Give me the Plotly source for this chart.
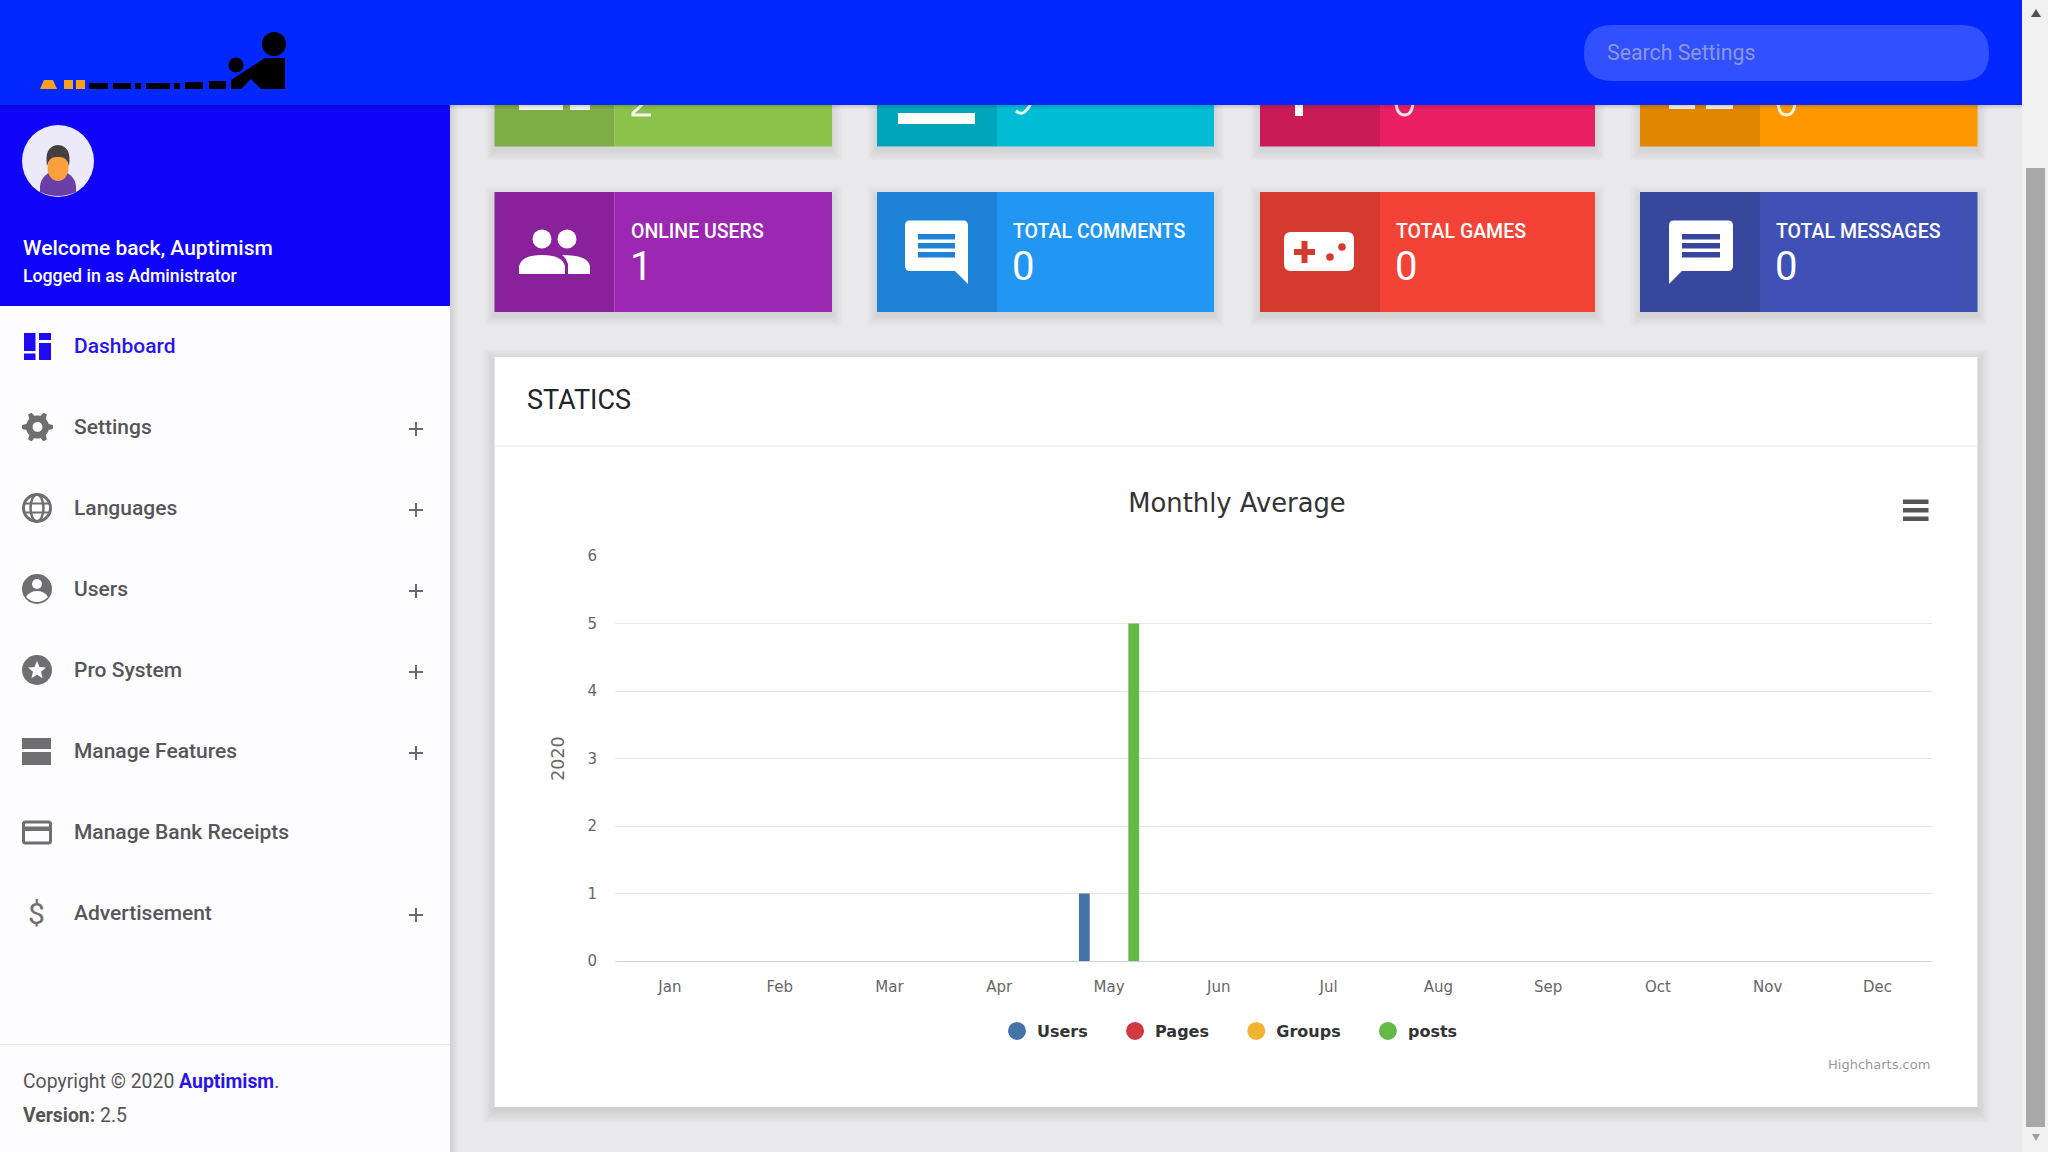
import re
import math
import plotly.graph_objects as go

# ---------- chart data ----------
months = ["Jan", "Feb", "Mar", "Apr", "May", "Jun", "Jul", "Aug", "Sep", "Oct", "Nov", "Dec"]
users = [0, 0, 0, 0, 1, 0, 0, 0, 0, 0, 0, 0]
pages = [0, 0, 0, 0, 0, 0, 0, 0, 0, 0, 0, 0]
groups = [0, 0, 0, 0, 0, 0, 0, 0, 0, 0, 0, 0]
posts = [0, 0, 0, 0, 5, 0, 0, 0, 0, 0, 0, 0]
series_names = ["Users", "Pages", "Groups", "posts"]
series_colors = ["#4572a7", "#d13a3f", "#f1b42f", "#63bb46"]
chart_title = "Monthly Average"
y_title = "2020"

menu_items = ["Dashboard", "Settings", "Languages", "Users", "Pro System",
              "Manage Features", "Manage Bank Receipts", "Advertisement"]
card_labels = ["ONLINE USERS", "TOTAL COMMENTS", "TOTAL GAMES", "TOTAL MESSAGES"]
card_values = ["1", "0", "0", "0"]

W, H = 2048, 1152
shapes, notes = [], []


def fx(x):
    return x / W


def fy(y):
    return 1 - y / H


def rect(x0, y0, x1, y1, color, opacity=1.0):
    shapes.append(dict(type="rect", xref="paper", yref="paper", x0=fx(x0), x1=fx(x1), y0=fy(y1), y1=fy(y0),
                       fillcolor=color, opacity=opacity, line=dict(width=0), layer="below"))


def circle(cx, cy, r, color, line=None, lw=0, ry=None):
    ry = r if ry is None else ry
    shapes.append(dict(type="circle", xref="paper", yref="paper", x0=fx(cx - r), x1=fx(cx + r),
                       y0=fy(cy + ry), y1=fy(cy - ry), fillcolor=color,
                       line=dict(width=lw, color=line or "rgba(0,0,0,0)"), layer="below"))


def path(d, color=None, line=None, lw=0):
    toks = re.findall(r"[MLCQZ]|-?\d+\.?\d*", d)
    out, is_x = [], True
    for t in toks:
        if t in "MLCQZ":
            out.append(t)
            is_x = True
        else:
            v = float(t)
            out.append(f"{fx(v):.6f}" if is_x else f"{fy(v):.6f}")
            is_x = not is_x
    s = ""
    for t in out:
        s += (" " + t)
    shapes.append(dict(type="path", xref="paper", yref="paper", path=s.strip(),
                       fillcolor=color or "rgba(0,0,0,0)",
                       line=dict(width=lw, color=line or "rgba(0,0,0,0)"), layer="below"))


def round_rect(x0, y0, x1, y1, r, color, line=None, lw=0):
    d = (f"M{x0 + r} {y0} L{x1 - r} {y0} Q{x1} {y0} {x1} {y0 + r} L{x1} {y1 - r} Q{x1} {y1} {x1 - r} {y1} "
         f"L{x0 + r} {y1} Q{x0} {y1} {x0} {y1 - r} L{x0} {y0 + r} Q{x0} {y0} {x0 + r} {y0} Z")
    path(d, color, line, lw)


def shadow(x0, y0, x1, y1, n=10, dy=4):
    for k in range(n, 0, -1):
        rect(x0 - k, y0 - k + dy, x1 + k, y1 + k + dy, "#000000", 0.0075)


def text(x, y, s, size, color, weight=400, font="Roboto", anchor="left"):
    notes.append(dict(xref="paper", yref="paper", x=fx(x), y=fy(y), text=s, showarrow=False,
                      xanchor=anchor, yanchor="middle",
                      font=dict(family=font, size=size, color=color, weight=weight)))


# ---------- page ----------
rect(0, 0, W, H, "#e9e9ec")

# upper row of cards, cut by the header
upper = [(494.5, 614.5, 832, "#7eac46", "#8bc34a"), (877, 997, 1214, "#00a5ba", "#00bcd4"),
         (1260, 1380, 1595, "#cb1b57", "#e91e63"), (1640, 1760, 1977.5, "#e08600", "#ff9800")]
for x0, xm, x1, dark, light in upper:
    shadow(x0, 90, x1, 146.5)
    rect(x0, 90, xm, 146.5, dark)
    rect(xm, 90, x1, 146.5, light)

lines_white = "#f4f6ee"
rect(519, 100, 563, 110, lines_white)
rect(570, 100, 590, 110, lines_white)
path("M644 103 L633 113 L633 115 L651 115", None, "#f4f6ee", 3)
rect(898, 113, 975, 124, "#ffffff")
path("M1016 111 Q1024 118 1031 103", None, "#e8fafc", 3)
rect(1295, 100, 1303, 116, "#ffffff")
path("M1396 103 Q1397 115 1404.5 115 Q1412 115 1413 103", None, "#fbe3ec", 3)
rect(1669, 100, 1695, 109, "#fbf2e4")
rect(1706, 100, 1733, 109, "#fbf2e4")
path("M1778 103 Q1779 115 1786.5 115 Q1794 115 1795 103", None, "#fff3e0", 3)

# lower row of cards
lower = [(494.5, 614.5, 832, "#88219a", "#9c27b0"), (877, 997, 1214, "#1e82d6", "#2196f3"),
         (1260, 1380, 1595, "#d43a2f", "#f44336"), (1640, 1760, 1977.5, "#38479e", "#3f51b5")]
for i, (x0, xm, x1, dark, light) in enumerate(lower):
    shadow(x0, 192, x1, 312)
    rect(x0, 192, xm, 312, dark)
    rect(xm, 192, x1, 312, light)
    text(xm + 14, 231.5, card_labels[i], 19.5, "#ffffff", 500)
    text(xm + 13, 266, card_values[i], 40, "#ffffff", 400)

# people icon
circle(542, 239, 9.5, "#ffffff")
circle(567, 239, 9.5, "#ffffff")
path("M519 274 L519 266 Q522 255 542 255 Q562 255 565 266 L565 274 Z", "#ffffff")
path("M568 274 L568 264 Q566 258 562 255 Q588 255 590 266 L590 274 Z", "#ffffff")


def bubble(x0, x1, tail_right, bg):
    y0, y1, r = 220.5, 271, 5
    if tail_right:
        d = (f"M{x0 + r} {y0} L{x1 - r} {y0} Q{x1} {y0} {x1} {y0 + r} L{x1} 284 L{x1 - 13} {y1} L{x0 + r} {y1} "
             f"Q{x0} {y1} {x0} {y1 - r} L{x0} {y0 + r} Q{x0} {y0} {x0 + r} {y0} Z")
    else:
        d = (f"M{x0 + r} {y0} L{x1 - r} {y0} Q{x1} {y0} {x1} {y0 + r} L{x1} {y1 - r} Q{x1} {y1} {x1 - r} {y1} "
             f"L{x0 + 13} {y1} L{x0} 284 L{x0} {y0 + r} Q{x0} {y0} {x0 + r} {y0} Z")
    path(d, "#ffffff")
    for ya in (234, 243, 252):
        rect(x0 + 13, ya, x1 - 13, ya + 5.5, bg)


bubble(905, 968, True, "#1e82d6")
bubble(1669, 1733, False, "#38479e")

# gamepad icon
round_rect(1284, 232, 1354, 271, 7, "#ffffff")
rect(1294, 249, 1315, 255, "#d43a2f")
rect(1301.5, 241, 1307.5, 263, "#d43a2f")
circle(1330, 257, 3.8, "#d43a2f")
circle(1342, 247, 3.8, "#d43a2f")

# chart panel
shadow(494.5, 357, 1977.5, 1107, n=12, dy=4)
rect(494.5, 357, 1977.5, 1107, "#ffffff")
rect(494.5, 445, 1977.5, 446.5, "#f0f0f2")
text(524.5, 400, "STATICS", 27, "#212529", 400)
text(1932, 1064, "Highcharts.com", 13, "#9a9a9a", 400, "DejaVu Sans", "right")
for ya in (499.5, 508, 516.5):
    rect(1903, ya, 1928.5, ya + 4.5, "#555555")

# sidebar
for k in range(8, 0, -1):
    rect(450, 105, 450 + k, H, "#000000", 0.012)
rect(0, 105, 450, H, "#fdfcff")
rect(0, 105, 450, 306, "#1005f8")
circle(58, 161, 36, "#ece9f8")
path("M40 192 L40 186 Q42 172 58 171 Q74 172 76 186 L76 192 Q58 200 40 192 Z", "#6a3fa8")
circle(58, 168, 10.5, "#f9a03f", ry=13)
path("M47 166 Q44 146 58 145 Q72 146 69 166 Q67 156 58 157 Q49 156 47 166 Z", "#44403f")
text(20.5, 247.5, "Welcome back, Auptimism", 21, "#ffffff", 500)
text(20.5, 275.5, "Logged in as Administrator", 17.7, "#ffffff", 500)

menu_y = [346, 427, 508, 589, 670, 751, 832, 913]
gray = "#6f6f72"
for i, (name, ym) in enumerate(zip(menu_items, menu_y)):
    text(71.5, ym, name, 21, "#2a14ee" if i == 0 else "#565658", 500)
    if i not in (0, 6):
        rect(409, ym + 1, 423, ym + 3, "#6a6a6a")
        rect(415, ym - 5, 417, ym + 9, "#6a6a6a")

# dashboard icon
for a in [(24, 333, 35.5, 351), (24, 353.5, 35.5, 360), (39, 333, 51, 340), (39, 343, 51, 360)]:
    rect(*a, "#1e0af5")

# gear icon
pts = []
for j in range(48):
    ang = 2 * math.pi * j / 48
    tooth = (j % 8) in (0, 1, 2)
    rad = 15.5 if tooth else 11.5
    pts.append((37.5 + rad * math.cos(ang - 0.13), 427 + rad * math.sin(ang - 0.13)))
path("M" + " L".join(f"{a:.1f} {b:.1f}" for a, b in pts) + " Z", gray)
circle(37.5, 427, 5, "#fdfcff")

# globe icon
circle(37, 508, 13.5, "rgba(0,0,0,0)", gray, 3)
circle(37, 508, 6.5, "rgba(0,0,0,0)", gray, 2.5, ry=13.5)
rect(24, 502.5, 50, 504.5, gray)
rect(24, 511.5, 50, 513.5, gray)

# user icon
circle(37, 589, 15, gray)
circle(37, 584, 5, "#fdfcff")
path("M26 597 Q30 591 37 591 Q44 591 48 597 Q43 602 37 602 Q31 602 26 597 Z", "#fdfcff")

# star icon
circle(37, 670, 15, gray)
star = []
for j in range(10):
    ang = -math.pi / 2 + j * math.pi / 5
    rad = 9.5 if j % 2 == 0 else 4.2
    star.append((37 + rad * math.cos(ang), 670.5 + rad * math.sin(ang)))
path("M" + " L".join(f"{a:.1f} {b:.1f}" for a, b in star) + " Z", "#fdfcff")

# features icon
rect(22, 738, 51, 749, gray)
rect(22, 752, 51, 765, gray)

# bank icon
round_rect(23.5, 822, 50.5, 843, 2, "#fdfcff", gray, 3)
rect(23, 826.5, 51, 831, gray)

text(36, 913, "$", 30, gray, 400, "Roboto", "center")

rect(0, 1044, 450, 1045, "#e9e9ec")
text(20.5, 1081, "Copyright © 2020 <b style='color:#2a14ee'>Auptimism</b>.", 19.4, "#555555", 400)
text(20.5, 1115, "<b>Version:</b> 2.5", 19.4, "#555555", 400)

# header (covers the upper card row and sidebar top)
for k in range(4, 0, -1):
    rect(0, 105, 2022, 105 + k, "#000000", 0.03)
rect(0, 0, 2022, 105, "#0328ff")

# logo, cut at its lower edge
circle(274, 44, 12, "#000000")
circle(236, 65, 7.5, "#000000")
path("M231 89 L231 80 L265 58 L285 58 L285 89 L261 89 L251 79 L241 89 Z", "#000000")
path("M40 89 L44 80 L53 80 L57 89 Z", "#f7a022")
rect(64, 80, 73, 89, "#f7a022")
rect(76, 80, 85, 89, "#f7a022")
for a, b, top in [(89, 108, 83), (113, 131, 83), (135, 141, 83), (146, 170, 83), (174, 180, 83),
                  (185, 203, 82), (209, 226, 81)]:
    rect(a, top, b, 89, "#000000")

# search box
round_rect(1584, 25, 1989, 81, 28, "#3150ff")
text(1605, 53, "Search Settings", 21.3, "#8b97dd", 400)

# scrollbar
rect(2022, 0, W, H, "#f1f1f1")
rect(2026, 168, 2045, 1127, "#a8a8a8")
path("M2031 17 L2036 9 L2041 17 Z", "#505050")
path("M2032 1134 L2036 1141 L2040 1134 Z", "#a0a0a0")

# ---------- figure ----------
fig = go.Figure()
for name, vals, col in zip(series_names, [users, pages, groups, posts], series_colors):
    fig.add_trace(go.Bar(x=months, y=vals, name=name, marker=dict(color=col, line=dict(width=0)),
                         showlegend=False, legendgroup=name))
pad = "\u00a0" * 4
for name, col in zip(series_names, series_colors):
    fig.add_trace(go.Scatter(x=[None], y=[None], name=name + pad, mode="markers", legendgroup=name,
                             marker=dict(color=col, size=16, symbol="circle", line=dict(color=col, width=2))))

fig.update_layout(
    width=W, height=H, autosize=False,
    margin=dict(l=0, r=0, t=0, b=0, pad=0, autoexpand=False),
    paper_bgcolor="#e9e9ec", plot_bgcolor="rgba(0,0,0,0)",
    barmode="group", bargap=0.4, bargroupgap=0.345,
    shapes=shapes, annotations=notes,
    title=dict(text=chart_title, xref="paper", yref="paper", x=1237 / W, y=fy(503), xanchor="center",
               yanchor="middle", font=dict(family="DejaVu Sans", size=25.8, color="#333333")),
    xaxis=dict(domain=[615 / W, 1932.4 / W], type="category", categoryorder="array", categoryarray=months,
               range=[-0.5, 11.5], showline=True, linecolor="#ccd6eb", linewidth=1.3, showgrid=False,
               ticks="", ticklabelstandoff=12, tickfont=dict(family="DejaVu Sans", size=15, color="#666666"),
               fixedrange=True),
    yaxis=dict(domain=[fy(961), fy(556)], range=[0, 6], dtick=1, showgrid=True, gridcolor="#e6e6e6",
               gridwidth=1.3, zeroline=False, showline=False, ticks="", ticklabelstandoff=17,
               tickfont=dict(family="DejaVu Sans", size=15, color="#666666"),
               title=dict(text=y_title, standoff=18, font=dict(family="DejaVu Sans", size=17.5, color="#666666")),
               fixedrange=True),
    legend=dict(orientation="h", x=1241 / W, y=fy(1031), xanchor="center", yanchor="middle",
                bgcolor="rgba(0,0,0,0)", itemclick=False, itemdoubleclick=False,
                font=dict(family="DejaVu Sans", size=16, color="#333333", weight="bold")),
)

fig.write_html("out.html", config=dict(displayModeBar=False),
               post_script="document.body.style.margin='0';document.body.style.overflow='hidden';")
